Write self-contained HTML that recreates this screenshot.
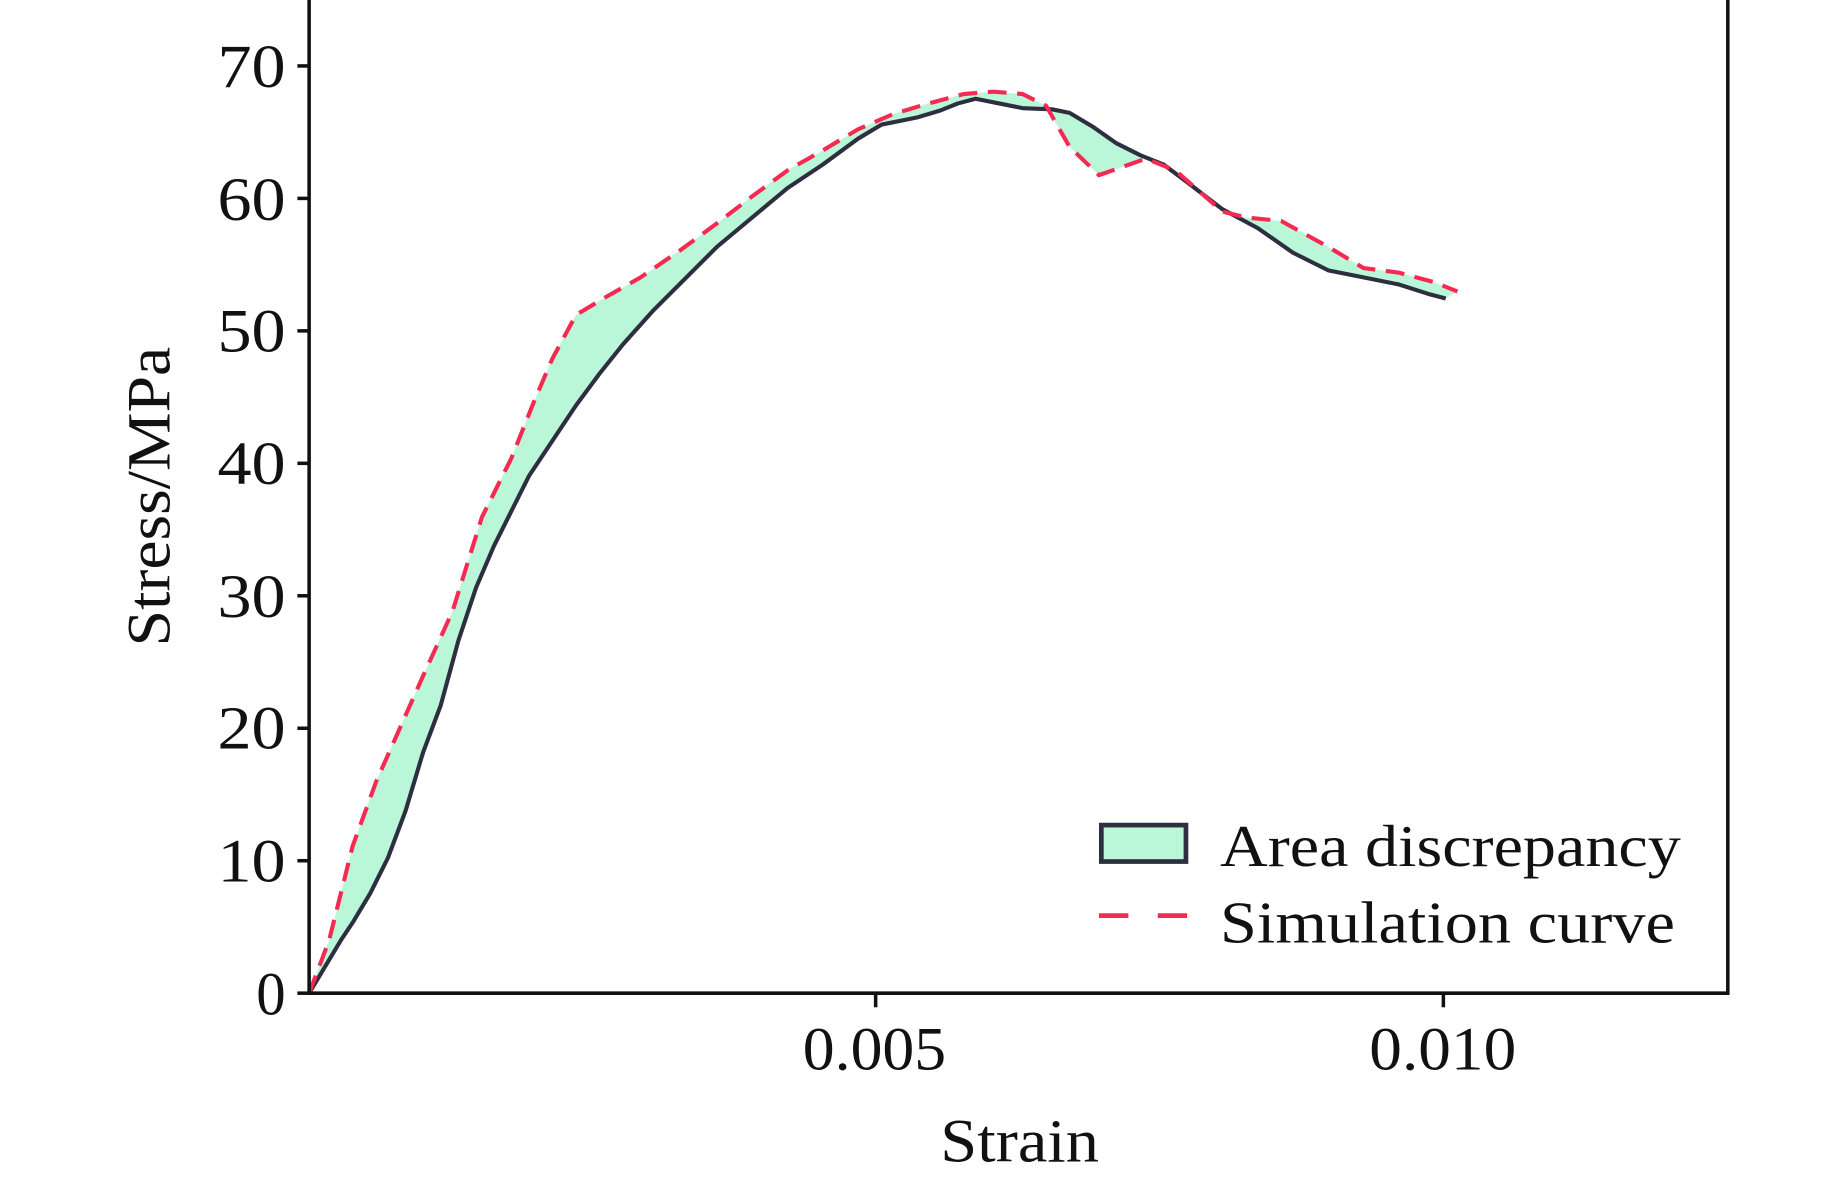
<!DOCTYPE html>
<html><head><meta charset="utf-8"><style>html,body{margin:0;padding:0;background:#fff;overflow:hidden}svg{display:block}</style></head>
<body>
<svg width="1843" height="1183" viewBox="0 0 1568 1006.5" preserveAspectRatio="none" xmlns="http://www.w3.org/2000/svg" font-family="Liberation Serif, serif" fill="#111">
<polygon fill="#b9f7d8" points="263,845 280,800 300,720 320,665 340,620 360,575 385,520 410,440 435,390 455,340 470,305 490,268 515,253 545,236 580,212 610,190 640,167 670,145 700,128 730,110 760,97 790,88 820,80 845,78 870,80 890,90 910,125 935,149 975,135 1000,145 1040,180 1060,185 1090,188 1130,210 1160,228 1190,232 1220,240 1240,248 1230,254 1215,250 1190,242 1160,236 1130,230 1100,215 1070,194 1040,178 1010,155 990,140 970,132 950,122 930,108 910,96 895,93 870,92 850,88 830,84 815,88 800,94 780,100 750,106 730,118 700,140 670,160 640,185 610,210 580,240 555,265 530,293 510,318 490,345 470,375 450,405 435,435 420,465 405,500 390,545 375,600 360,640 345,690 330,730 315,760 300,785 290,800 275,825"/>
<polyline fill="none" stroke="#2d2f3f" stroke-width="3.5" stroke-linejoin="round" points="263,845 275,825 290,800 300,785 315,760 330,730 345,690 360,640 375,600 390,545 405,500 420,465 435,435 450,405 470,375 490,345 510,318 530,293 555,265 580,240 610,210 640,185 670,160 700,140 730,118 750,106 780,100 800,94 815,88 830,84 850,88 870,92 895,93 910,96 930,108 950,122 970,132 990,140 1010,155 1040,178 1070,194 1100,215 1130,230 1160,236 1190,242 1215,250 1230,254"/>
<polyline fill="none" stroke="#f52a52" stroke-width="3.5" stroke-dasharray="16,9" points="263,845 280,800 300,720 320,665 340,620 360,575 385,520 410,440 435,390 455,340 470,305 490,268 515,253 545,236 580,212 610,190 640,167 670,145 700,128 730,110 760,97 790,88 820,80 845,78 870,80 890,90 910,125 935,149 975,135 1000,145 1040,180 1060,185 1090,188 1130,210 1160,228 1190,232 1220,240 1240,248"/>
<g stroke="#111" stroke-width="3" fill="none">
<polyline points="263,0 263,845 1470,845 1470,0"/>
<line x1="253" y1="845" x2="263" y2="845"/><line x1="253" y1="732.3" x2="263" y2="732.3"/><line x1="253" y1="619.6" x2="263" y2="619.6"/><line x1="253" y1="506.9" x2="263" y2="506.9"/><line x1="253" y1="394.2" x2="263" y2="394.2"/><line x1="253" y1="281.5" x2="263" y2="281.5"/><line x1="253" y1="168.8" x2="263" y2="168.8"/><line x1="253" y1="56.1" x2="263" y2="56.1"/>
<line x1="745" y1="845" x2="745" y2="857"/><line x1="1228" y1="845" x2="1228" y2="857"/>
</g>
<g font-size="52" lengthAdjust="spacingAndGlyphs">
<text x="218" y="863" textLength="25" lengthAdjust="spacingAndGlyphs">0</text>
<text x="185" y="750" textLength="58" lengthAdjust="spacingAndGlyphs">10</text>
<text x="185" y="637" textLength="58" lengthAdjust="spacingAndGlyphs">20</text>
<text x="185" y="525" textLength="58" lengthAdjust="spacingAndGlyphs">30</text>
<text x="185" y="412" textLength="58" lengthAdjust="spacingAndGlyphs">40</text>
<text x="185" y="299" textLength="58" lengthAdjust="spacingAndGlyphs">50</text>
<text x="185" y="187" textLength="58" lengthAdjust="spacingAndGlyphs">60</text>
<text x="185" y="74" textLength="58" lengthAdjust="spacingAndGlyphs">70</text>
<text x="683" y="910" textLength="122" lengthAdjust="spacingAndGlyphs">0.005</text>
<text x="1165" y="910" textLength="125" lengthAdjust="spacingAndGlyphs">0.010</text>
<text x="800" y="988" textLength="135" lengthAdjust="spacingAndGlyphs">Strain</text>
<text transform="translate(144,550) rotate(-90)" x="0" y="0" textLength="255" lengthAdjust="spacingAndGlyphs">Stress/MPa</text>
</g>
<rect x="937" y="702" width="72" height="31" fill="#b9f7d8" stroke="#2d2f3f" stroke-width="4"/>
<line x1="935" y1="779" x2="1010" y2="779" stroke="#f52a52" stroke-width="4" stroke-dasharray="25,25"/>
<text x="1038" y="737" font-size="50" textLength="392" lengthAdjust="spacingAndGlyphs">Area discrepancy</text>
<text x="1038" y="802" font-size="50" textLength="387" lengthAdjust="spacingAndGlyphs">Simulation curve</text>
</svg>
</body></html>
